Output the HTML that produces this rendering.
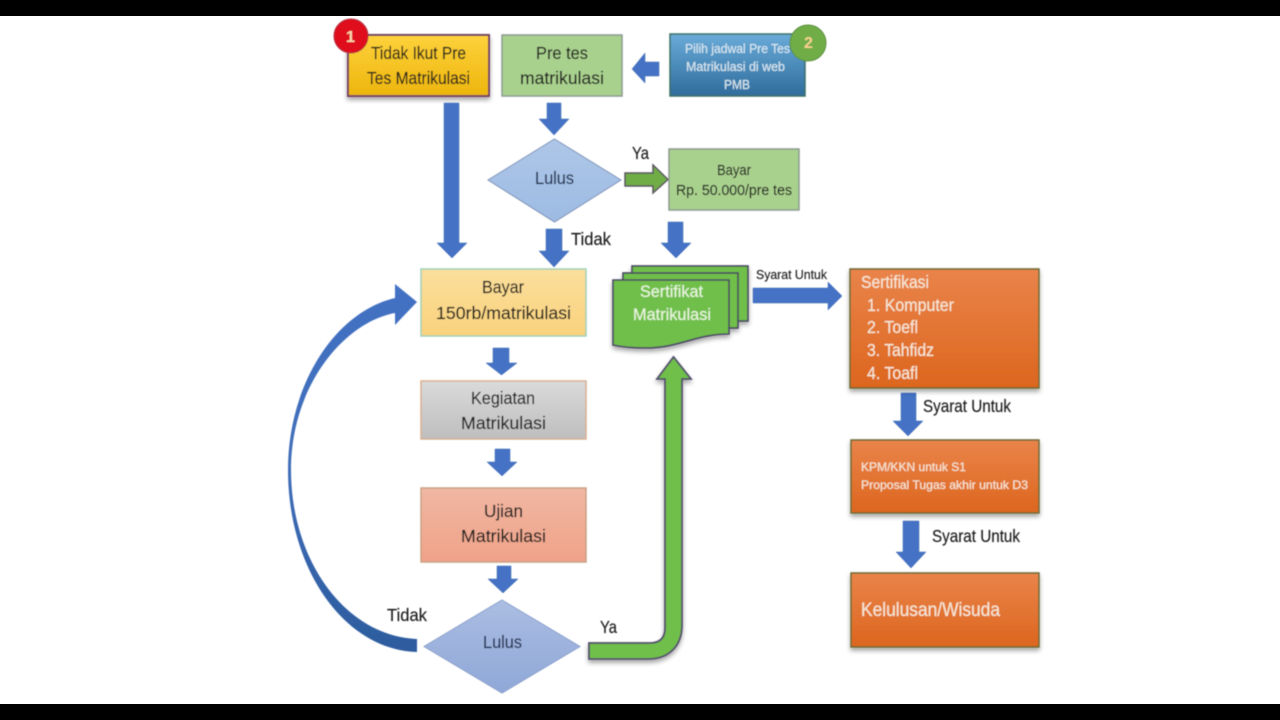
<!DOCTYPE html>
<html><head><meta charset="utf-8"><style>
html,body{margin:0;padding:0;background:#000;width:1280px;height:720px;overflow:hidden}
svg{display:block}
text{font-family:"Liberation Sans",sans-serif;font-size:17.5px;fill:#1c1c1c;stroke:#1c1c1c;stroke-width:.15px}
.w{fill:#f6e6d4;stroke:#f6e6d4}
.n{fill:#1e2d50;stroke:#1e2d50}
.l{fill:#d6e6f0;stroke:#d6e6f0;font-size:13px}
.g{fill:#e8f5dc;stroke:#e8f5dc;font-size:17px}
</style></head><body>
<svg width="1280" height="720" viewBox="0 0 1280 720" xmlns="http://www.w3.org/2000/svg">
<defs>
<linearGradient id="yel" x1="0" y1="0" x2="0" y2="1"><stop offset="0" stop-color="#fdd23c"/><stop offset="1" stop-color="#edb50c"/></linearGradient>
<linearGradient id="blu" x1="0" y1="0" x2="0" y2="1"><stop offset="0" stop-color="#69abd9"/><stop offset="1" stop-color="#2f6c9c"/></linearGradient>
<linearGradient id="pea" x1="0" y1="0" x2="0" y2="1"><stop offset="0" stop-color="#fbdf9d"/><stop offset="1" stop-color="#f9d27c"/></linearGradient>
<linearGradient id="gry" x1="0" y1="0" x2="0" y2="1"><stop offset="0" stop-color="#dadada"/><stop offset="1" stop-color="#bebebe"/></linearGradient>
<linearGradient id="red" x1="0" y1="0" x2="0" y2="1"><stop offset="0" stop-color="#f0b7a3"/><stop offset="1" stop-color="#f0a288"/></linearGradient>
<linearGradient id="ora" x1="0" y1="0" x2="0" y2="1"><stop offset="0" stop-color="#e9844a"/><stop offset="1" stop-color="#dd661e"/></linearGradient>
<linearGradient id="dia" x1="0" y1="0" x2="0" y2="1"><stop offset="0" stop-color="#aec7e8"/><stop offset="1" stop-color="#9dbbe2"/></linearGradient>
<linearGradient id="dib" x1="0" y1="0" x2="0" y2="1"><stop offset="0" stop-color="#abbde2"/><stop offset="1" stop-color="#8fa8d8"/></linearGradient>
<linearGradient id="cur" gradientUnits="userSpaceOnUse" x1="0" y1="284" x2="0" y2="652"><stop offset="0" stop-color="#4472c4"/><stop offset=".5" stop-color="#3f6db8"/><stop offset="1" stop-color="#2d5c9e"/></linearGradient>
<filter id="sh" x="-20%" y="-20%" width="140%" height="140%"><feDropShadow dx="0" dy="3" stdDeviation="2.5" flood-color="#000" flood-opacity=".35"/></filter>
<filter id="soft"><feGaussianBlur stdDeviation="0.4"/></filter>
</defs>
<rect x="0" y="16" width="1280" height="688" fill="#fff"/>
<g filter="url(#soft)">

<rect x="348" y="35" width="141" height="61" fill="url(#yel)" stroke="#74405e" stroke-width="2" filter="url(#sh)"/>
<rect x="502" y="35" width="120" height="61" fill="#a9d18e" stroke="#8c9a90" stroke-width="1.5"/>
<rect x="670" y="34" width="135" height="62" fill="url(#blu)" stroke="#3c7064" stroke-width="1.5"/>
<circle cx="351" cy="36" r="17" fill="#e00b1c" stroke="#b03040" stroke-width="1"/>
<circle cx="808" cy="43" r="18" fill="#70ad47" stroke="#5d9040" stroke-width="1"/>

<g fill="#4472c4" stroke="#3f68b0" stroke-width=".5">
<polygon points="659,62 645,62 645,53 632,69 645,83 645,76 659,76"/>
<polygon points="547,103 561,103 561,119 569,119 554,135 539,119 547,119"/>
<polygon points="444,103 459,103 459,243 467,243 452,258 437,243 444,243"/>
<polygon points="546,229 562,229 562,251 569,251 554,267 539,251 546,251"/>
<polygon points="668,222 683,222 683,243 691,243 676,258 661,243 668,243"/>
<polygon points="493,348 509,348 509,363 517,363 501.500,375 486,363 493,363"/>
<polygon points="495,449 510,449 510,462 517,462 502,476 487,462 495,462"/>
<polygon points="497,566 511,566 511,579 518,579 503,593 488,579 497,579"/>
<polygon points="753,288 828,288 828,282 842,296 828,310 828,303 753,303"/>
<polygon points="901,393 916,393 916,421 923,421 908,436 893,421 901,421"/>
<polygon points="903,521 919,521 919,552 926,552 911,568 896,552 903,552"/>
</g>
<path d="M417 652 C345 650 288 570 288 470 C288 385 335 312 395 298 L395 284 L417 302 L395 325 L395 313 C345 322 291 385 291 470 C291 560 345 636 417 639 Z" fill="url(#cur)"/>

<polygon points="554.500,139 621,180 554.500,222 488,180" fill="url(#dia)" stroke="#7f93b8" stroke-width="1"/>
<polygon points="502,600 580,646.500 502,693 424,646.500" fill="url(#dib)" stroke="#8ba0cc" stroke-width="1"/>

<polygon points="625,173 653,173 653,165 668,179.500 653,193 653,186 625,186" fill="#70ad47" stroke="#5b5560" stroke-width="1.500"/>

<rect x="669" y="149" width="130" height="61" fill="#a9d18e" stroke="#8c9a90" stroke-width="1.5"/>

<rect x="421" y="269" width="165" height="67" fill="url(#pea)" stroke="#9fd0b8" stroke-width="1.5"/>
<rect x="421" y="381" width="165" height="58" fill="url(#gry)" stroke="#d8b090" stroke-width="1.5"/>
<rect x="421" y="488" width="165" height="74" fill="url(#red)" stroke="#c9a184" stroke-width="1.5"/>

<g fill="#70bf4c" stroke="#4a4660" stroke-width="1.6" filter="url(#sh)">
<rect x="632" y="266" width="116" height="55"/>
<rect x="623" y="273" width="115" height="55"/>
<path d="M613 280 H729 V334 C695 334 680 348 645 348 C632 348 622 347 613 345 Z"/>
</g>

<path d="M589 643 H650 C660 643 665 638 665 628 V379 H657 L673.500 357 L691 379 H682 V625 C682 647 668 659 648 659 H589 Z" fill="#70bf4c" stroke="#54506a" stroke-width="1.800" filter="url(#sh)"/>

<rect x="850" y="269" width="189" height="119" fill="url(#ora)" stroke="#6a6a38" stroke-width="1.500" filter="url(#sh)"/>
<rect x="851" y="440" width="188" height="73" fill="url(#ora)" stroke="#6a6a38" stroke-width="1.500" filter="url(#sh)"/>
<rect x="851" y="573" width="188" height="74" fill="url(#ora)" stroke="#6a6a38" stroke-width="1.500" filter="url(#sh)"/>

<text x="371" y="59" textLength="95" lengthAdjust="spacingAndGlyphs">Tidak Ikut Pre</text>
<text x="367" y="84" textLength="103" lengthAdjust="spacingAndGlyphs">Tes Matrikulasi</text>
<text x="536" y="59" textLength="52" lengthAdjust="spacingAndGlyphs">Pre tes</text>
<text x="520" y="84" textLength="84" lengthAdjust="spacingAndGlyphs">matrikulasi</text>
<text class="l" x="685" y="53" textLength="105" lengthAdjust="spacingAndGlyphs">Pilih jadwal Pre Tes</text>
<text class="l" x="686" y="71" textLength="99" lengthAdjust="spacingAndGlyphs">Matrikulasi di web</text>
<text class="l" x="724" y="89" textLength="26" lengthAdjust="spacingAndGlyphs">PMB</text>
<text x="346" y="42" style="font-size:16px;font-weight:bold;fill:#f8d8b0;stroke:none">1</text>
<text x="804" y="48" style="font-size:16px;font-weight:bold;fill:#f8d090;stroke:none">2</text>
<text class="n" x="535" y="184" textLength="39" lengthAdjust="spacingAndGlyphs">Lulus</text>
<text x="632" y="159" textLength="17" lengthAdjust="spacingAndGlyphs">Ya</text>
<text x="717" y="175" style="font-size:15px" textLength="34" lengthAdjust="spacingAndGlyphs">Bayar</text>
<text x="676" y="195" style="font-size:15px" textLength="116" lengthAdjust="spacingAndGlyphs">Rp. 50.000/pre tes</text>
<text x="571" y="245" textLength="40" lengthAdjust="spacingAndGlyphs">Tidak</text>
<text x="482" y="293" textLength="42" lengthAdjust="spacingAndGlyphs">Bayar</text>
<text x="436" y="319" textLength="135" lengthAdjust="spacingAndGlyphs">150rb/matrikulasi</text>
<text x="471" y="404" textLength="64" lengthAdjust="spacingAndGlyphs">Kegiatan</text>
<text x="461" y="429" textLength="85" lengthAdjust="spacingAndGlyphs">Matrikulasi</text>
<text x="484" y="517" textLength="39" lengthAdjust="spacingAndGlyphs">Ujian</text>
<text x="461" y="542" textLength="85" lengthAdjust="spacingAndGlyphs">Matrikulasi</text>
<text class="n" x="483" y="648" textLength="39" lengthAdjust="spacingAndGlyphs">Lulus</text>
<text x="387" y="621" textLength="40" lengthAdjust="spacingAndGlyphs">Tidak</text>
<text x="600" y="633" textLength="17" lengthAdjust="spacingAndGlyphs">Ya</text>
<text class="g" x="640" y="297" textLength="63" lengthAdjust="spacingAndGlyphs">Sertifikat</text>
<text class="g" x="633" y="320" textLength="78" lengthAdjust="spacingAndGlyphs">Matrikulasi</text>
<text x="756" y="279" style="font-size:13px" textLength="71" lengthAdjust="spacingAndGlyphs">Syarat Untuk</text>
<text class="w" x="861" y="288" textLength="68" lengthAdjust="spacingAndGlyphs">Sertifikasi</text>
<text class="w" x="867" y="311" textLength="87" lengthAdjust="spacingAndGlyphs">1.  Komputer</text>
<text class="w" x="867" y="333" textLength="51" lengthAdjust="spacingAndGlyphs">2.  Toefl</text>
<text class="w" x="867" y="356" textLength="67" lengthAdjust="spacingAndGlyphs">3.  Tahfidz</text>
<text class="w" x="867" y="379" textLength="51" lengthAdjust="spacingAndGlyphs">4.  Toafl</text>
<text x="923" y="412" textLength="88" lengthAdjust="spacingAndGlyphs">Syarat Untuk</text>
<text class="w" x="861" y="471" style="font-size:12px" textLength="105" lengthAdjust="spacingAndGlyphs">KPM/KKN  untuk  S1</text>
<text class="w" x="861" y="489" style="font-size:12px" textLength="167" lengthAdjust="spacingAndGlyphs">Proposal  Tugas akhir untuk  D3</text>
<text x="932" y="542" textLength="88" lengthAdjust="spacingAndGlyphs">Syarat Untuk</text>
<text class="w" x="861" y="616" style="font-size:19px" textLength="139" lengthAdjust="spacingAndGlyphs">Kelulusan/Wisuda</text>
</g>
</svg>
</body></html>
